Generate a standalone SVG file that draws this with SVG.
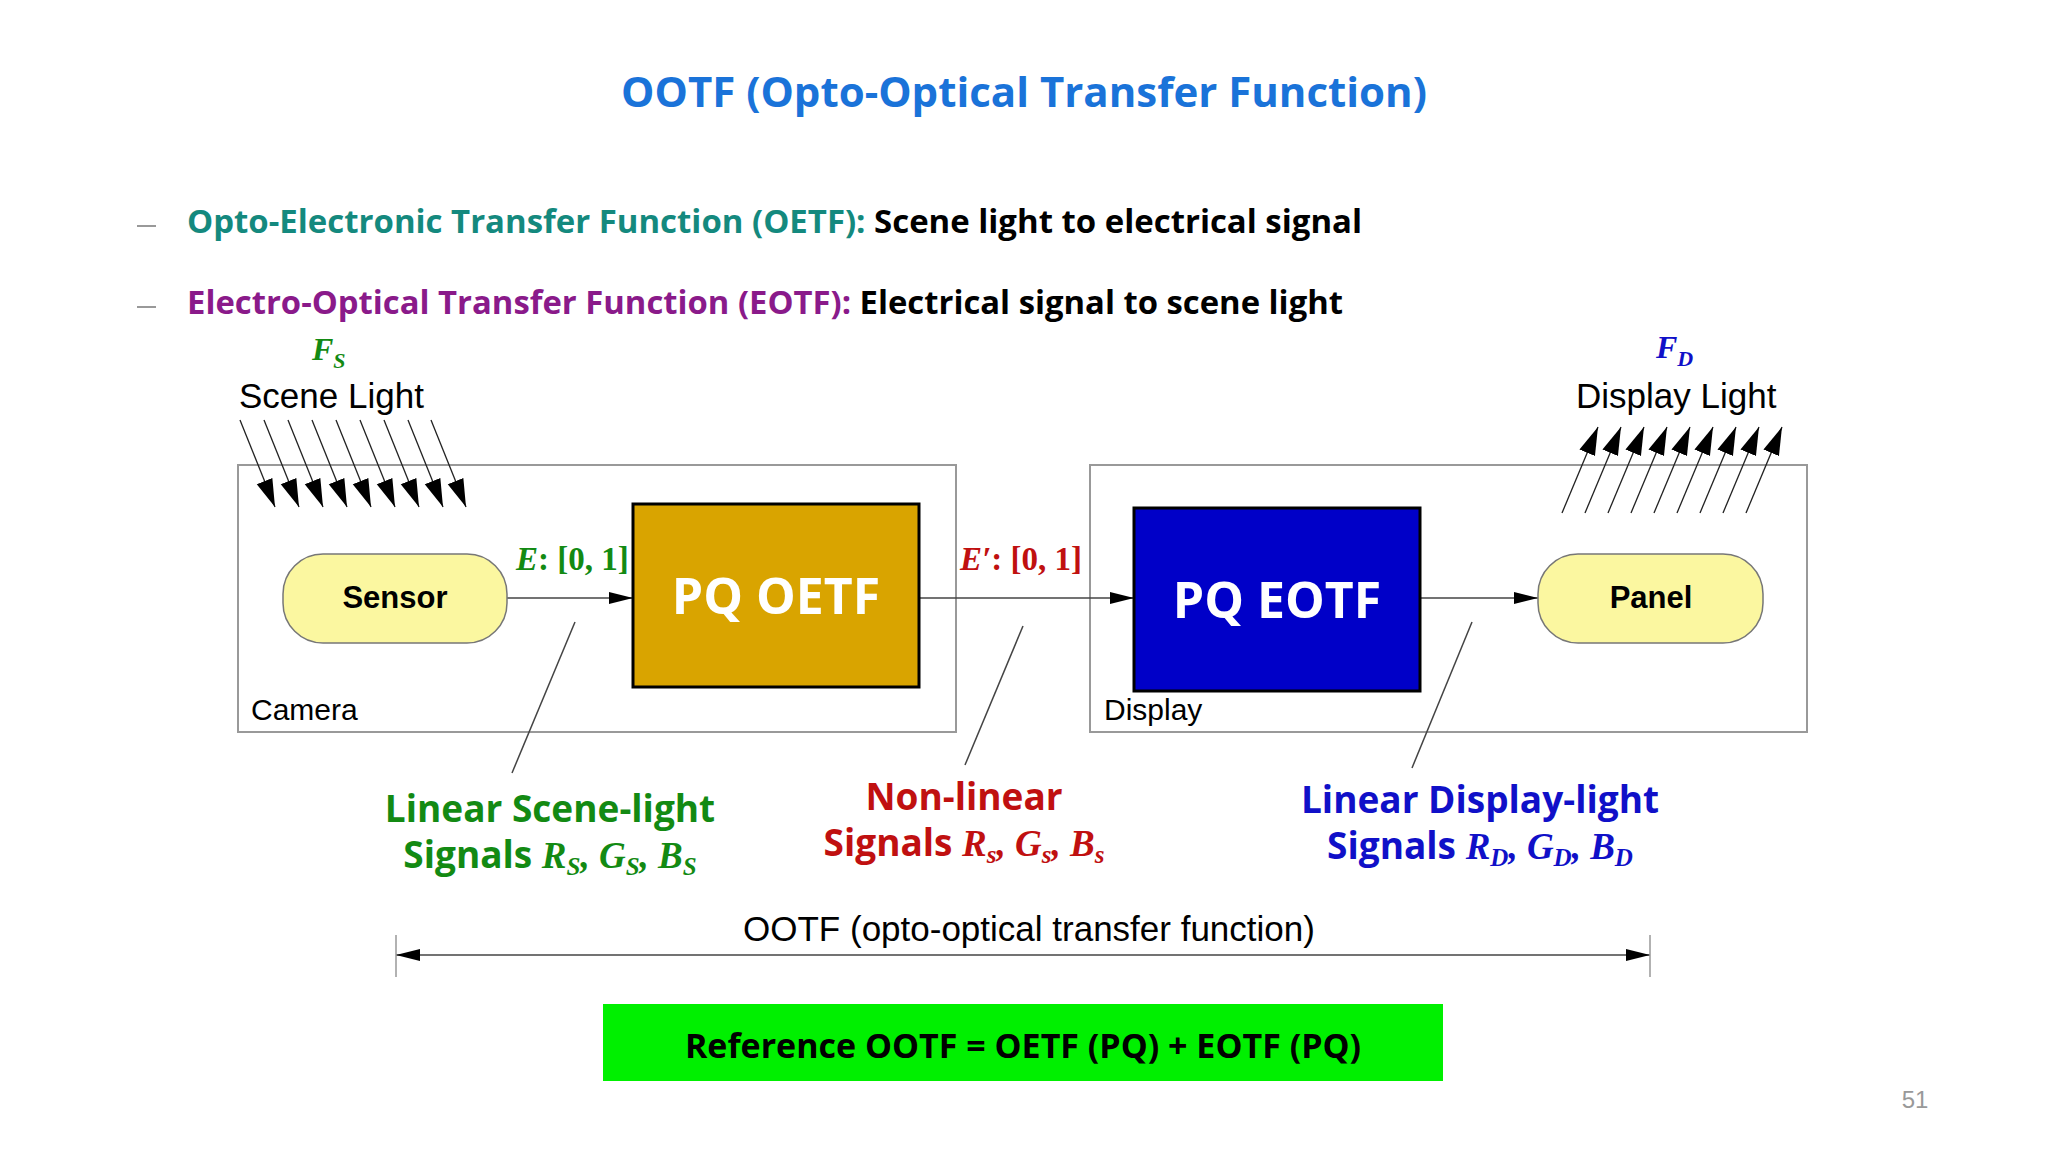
<svg xmlns="http://www.w3.org/2000/svg" width="2048" height="1152" viewBox="0 0 2048 1152">
<style>
.sans{font-family:"Liberation Sans",Arial,sans-serif}
.gt{font-family:"Open Sans","Liberation Sans",sans-serif;font-weight:bold}
.m{font-family:"Liberation Serif",serif;font-style:italic;font-weight:bold}
.mn{font-family:"Liberation Serif",serif;font-weight:bold}
.frame{fill:none;stroke:#999;stroke-width:2}
.ray{stroke:#222;stroke-width:1.3;fill:none}
.ln{stroke:#444;stroke-width:1.5;fill:none}
</style>
<defs>
<marker id="a" viewBox="0 0 10 10" refX="10" refY="5" markerWidth="8" markerHeight="8" markerUnits="userSpaceOnUse" orient="auto"><path d="M0,0L10,5L0,10z" fill="#000"/></marker>
<marker id="ah" viewBox="0 0 10 10" refX="10" refY="5" markerWidth="24" markerHeight="24" markerUnits="userSpaceOnUse" orient="auto-start-reverse"><path d="M0,2.5L10,5L0,7.5z" fill="#000"/></marker>
<marker id="r" viewBox="0 0 10 10" refX="10" refY="5" markerWidth="28" markerHeight="28" markerUnits="userSpaceOnUse" orient="auto"><path d="M0,2L10,5L0,8z" fill="#000"/></marker>
</defs>
<rect width="2048" height="1152" fill="#fff"/>
<text x="1024" y="107" text-anchor="middle" class="gt" font-size="42" fill="#1a73d9">OOTF (Opto-Optical Transfer Function)</text>
<line x1="137" y1="226" x2="156" y2="226" stroke="#999" stroke-width="2"/>
<line x1="137" y1="307" x2="156" y2="307" stroke="#999" stroke-width="2"/>
<text x="187" y="233" class="gt" font-size="33" textLength="1175" lengthAdjust="spacingAndGlyphs"><tspan fill="#14897e">Opto-Electronic Transfer Function (OETF):</tspan><tspan fill="#000"> Scene light to electrical signal</tspan></text>
<text x="187" y="314" class="gt" font-size="33" textLength="1156" lengthAdjust="spacingAndGlyphs"><tspan fill="#8a1a8a">Electro-Optical Transfer Function (EOTF):</tspan><tspan fill="#000"> Electrical signal to scene light</tspan></text>

<text x="312" y="360" class="m" font-size="32" fill="#138a13">F<tspan font-size="22" dy="8">S</tspan></text>
<text x="239" y="408" class="sans" font-size="35" fill="#000">Scene Light</text>
<text x="1656" y="358" class="m" font-size="32" fill="#1010c8">F<tspan font-size="22" dy="8">D</tspan></text>
<text x="1576" y="408" class="sans" font-size="35" fill="#000">Display Light</text>

<rect id="camera" x="238" y="465" width="718" height="267" class="frame"/>
<rect id="display" x="1090" y="465" width="717" height="267" class="frame"/>
<text x="251" y="720" class="sans" font-size="30">Camera</text>
<text x="1104" y="720" class="sans" font-size="30">Display</text>

<g id="scene-rays">
<line x1="240" y1="420" x2="275" y2="507" class="ray" marker-end="url(#r)"/>
<line x1="264" y1="420" x2="299" y2="507" class="ray" marker-end="url(#r)"/>
<line x1="288" y1="420" x2="323" y2="507" class="ray" marker-end="url(#r)"/>
<line x1="312" y1="420" x2="347" y2="507" class="ray" marker-end="url(#r)"/>
<line x1="336" y1="420" x2="371" y2="507" class="ray" marker-end="url(#r)"/>
<line x1="360" y1="420" x2="395" y2="507" class="ray" marker-end="url(#r)"/>
<line x1="384" y1="420" x2="419" y2="507" class="ray" marker-end="url(#r)"/>
<line x1="408" y1="420" x2="443" y2="507" class="ray" marker-end="url(#r)"/>
<line x1="431" y1="420" x2="466" y2="507" class="ray" marker-end="url(#r)"/>
</g>
<g id="display-rays">
<line x1="1562" y1="513" x2="1598" y2="427" class="ray" marker-end="url(#r)"/>
<line x1="1585" y1="513" x2="1621" y2="427" class="ray" marker-end="url(#r)"/>
<line x1="1608" y1="513" x2="1644" y2="427" class="ray" marker-end="url(#r)"/>
<line x1="1631" y1="513" x2="1667" y2="427" class="ray" marker-end="url(#r)"/>
<line x1="1654" y1="513" x2="1690" y2="427" class="ray" marker-end="url(#r)"/>
<line x1="1677" y1="513" x2="1713" y2="427" class="ray" marker-end="url(#r)"/>
<line x1="1700" y1="513" x2="1736" y2="427" class="ray" marker-end="url(#r)"/>
<line x1="1723" y1="513" x2="1759" y2="427" class="ray" marker-end="url(#r)"/>
<line x1="1746" y1="513" x2="1782" y2="427" class="ray" marker-end="url(#r)"/>
</g>

<g id="connectors">
<line x1="507" y1="598" x2="633" y2="598" class="ln" marker-end="url(#ah)"/>
<line x1="919" y1="598" x2="1134" y2="598" class="ln" marker-end="url(#ah)"/>
<line x1="1420" y1="598" x2="1538" y2="598" class="ln" marker-end="url(#ah)"/>
<line x1="575" y1="622" x2="512" y2="773" class="ln" stroke-width="1.2"/>
<line x1="1023" y1="626" x2="965" y2="765" class="ln" stroke-width="1.2"/>
<line x1="1472" y1="622" x2="1412" y2="768" class="ln" stroke-width="1.2"/>
<line x1="396" y1="955" x2="1650" y2="955" class="ln" marker-start="url(#ah)" marker-end="url(#ah)"/>
<line x1="396" y1="935" x2="396" y2="977" stroke="#999" stroke-width="1.5"/>
<line x1="1650" y1="935" x2="1650" y2="977" stroke="#999" stroke-width="1.5"/>
</g>

<text x="516" y="570" font-size="33" fill="#138a13"><tspan class="m">E</tspan><tspan class="mn">: [0, 1]</tspan></text>
<text x="960" y="570" font-size="33" fill="#c01010"><tspan class="m">E′</tspan><tspan class="mn">: [0, 1]</tspan></text>

<g id="sensor"><rect x="283" y="554" width="224" height="89" rx="40" fill="#fbf7a0" stroke="#777" stroke-width="1.5"/>
<text x="395" y="608" text-anchor="middle" class="sans" font-weight="bold" font-size="31">Sensor</text></g>
<g id="pq-oetf"><rect x="633" y="504" width="286" height="183" fill="#d9a400" stroke="#000" stroke-width="3"/>
<text x="776" y="614" text-anchor="middle" class="gt" font-size="50" fill="#fff">PQ OETF</text></g>
<g id="pq-eotf"><rect x="1134" y="508" width="286" height="183" fill="#0000c8" stroke="#000" stroke-width="3"/>
<text x="1277" y="618" text-anchor="middle" class="gt" font-size="50" fill="#fff">PQ EOTF</text></g>
<g id="panel"><rect x="1538" y="554" width="225" height="89" rx="40" fill="#fbf7a0" stroke="#777" stroke-width="1.5"/>
<text x="1651" y="608" text-anchor="middle" class="sans" font-weight="bold" font-size="31">Panel</text></g>

<g fill="#138a13" font-size="37" text-anchor="middle">
<text x="550" y="822" class="gt">Linear Scene-light</text>
<text x="550" y="868"><tspan class="gt">Signals </tspan><tspan class="m">R<tspan font-size="25" dy="7">S</tspan><tspan dy="-7">, G</tspan><tspan font-size="25" dy="7">S</tspan><tspan dy="-7">, B</tspan><tspan font-size="25" dy="7">S</tspan></tspan></text>
</g>
<g fill="#c01010" font-size="37" text-anchor="middle">
<text x="964" y="810" class="gt">Non-linear</text>
<text x="964" y="856"><tspan class="gt">Signals </tspan><tspan class="m">R<tspan font-size="25" dy="7">s</tspan><tspan dy="-7">, G</tspan><tspan font-size="25" dy="7">s</tspan><tspan dy="-7">, B</tspan><tspan font-size="25" dy="7">s</tspan></tspan></text>
</g>
<g fill="#1010c8" font-size="37" text-anchor="middle">
<text x="1480" y="813" class="gt">Linear Display-light</text>
<text x="1480" y="859"><tspan class="gt">Signals </tspan><tspan class="m">R<tspan font-size="25" dy="7">D</tspan><tspan dy="-7">, G</tspan><tspan font-size="25" dy="7">D</tspan><tspan dy="-7">, B</tspan><tspan font-size="25" dy="7">D</tspan></tspan></text>
</g>

<text x="1029" y="941" text-anchor="middle" class="sans" font-size="35">OOTF (opto-optical transfer function)</text>
<g id="reference"><rect x="603" y="1004" width="840" height="77" fill="#00f000"/>
<text x="1023" y="1058" text-anchor="middle" class="gt" font-size="34">Reference OOTF = OETF (PQ) + EOTF (PQ)</text></g>
<text x="1915" y="1108" class="sans" font-size="24" fill="#999" text-anchor="middle">51</text>
</svg>
